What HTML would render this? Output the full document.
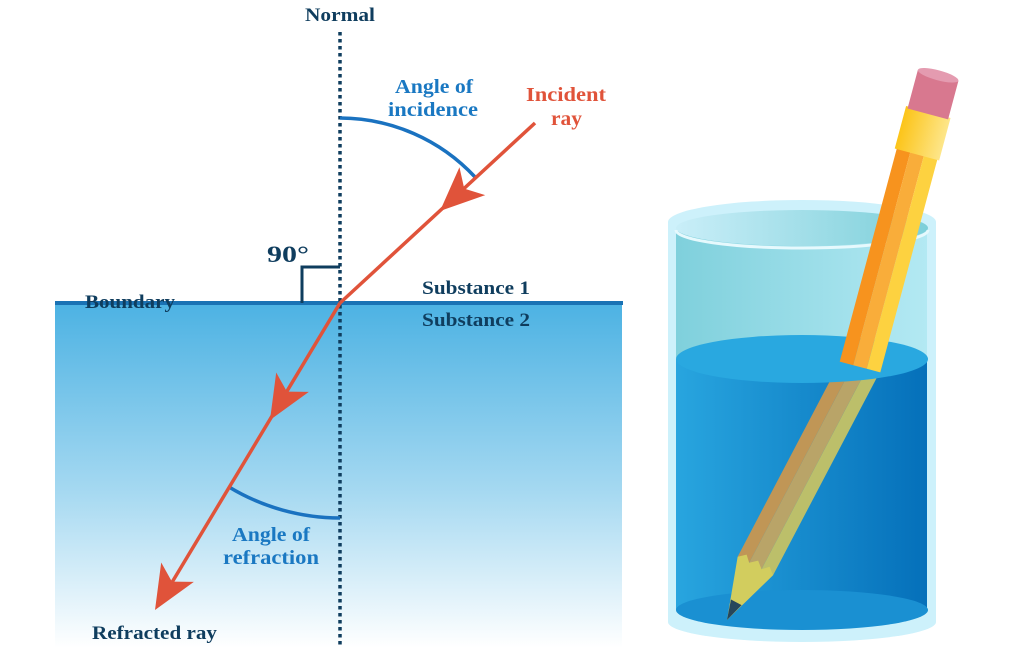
<!DOCTYPE html>
<html><head><meta charset="utf-8"><style>
html,body{margin:0;padding:0;background:#fff;}
svg{display:block;}
text{font-family:"Liberation Serif",serif;font-weight:bold;}
</style></head><body>
<svg width="1024" height="669" viewBox="0 0 1024 669" xmlns="http://www.w3.org/2000/svg">
<defs>
<linearGradient id="water" x1="0" y1="0" x2="0" y2="1">
<stop offset="0" stop-color="#4cb2e3"/><stop offset="0.55" stop-color="#a6d9f1"/><stop offset="1" stop-color="#ffffff"/>
</linearGradient>
<linearGradient id="gtop" x1="0" y1="0" x2="1" y2="0">
<stop offset="0" stop-color="#c9eef8"/><stop offset="1" stop-color="#7ccfd9"/>
</linearGradient>
<linearGradient id="gbody" x1="0" y1="0" x2="1" y2="0">
<stop offset="0" stop-color="#7fd0dc"/><stop offset="1" stop-color="#b3e9f3"/>
</linearGradient>
<linearGradient id="wbody" x1="0" y1="0" x2="1" y2="0">
<stop offset="0" stop-color="#28a5df"/><stop offset="1" stop-color="#0570ba"/>
</linearGradient>
<linearGradient id="ferr" x1="0" y1="0" x2="1" y2="0">
<stop offset="0" stop-color="#fcc419"/><stop offset="1" stop-color="#fde68a"/>
</linearGradient>
</defs>

<rect x="55" y="303" width="567" height="345" fill="url(#water)"/>
<line x1="55" y1="303" x2="623" y2="303" stroke="#1a72b4" stroke-width="4"/>

<line x1="340" y1="32" x2="340" y2="648" stroke="#0f3d5e" stroke-width="3.5" stroke-dasharray="3.5 3.5"/>

<polyline points="302,303 302,267 340,267" fill="none" stroke="#0f3d5e" stroke-width="3"/>

<path d="M340,118 A185,185 0 0 1 475,177" fill="none" stroke="#1a72c0" stroke-width="3.5"/>
<path d="M340,518 A215,215 0 0 1 229,487" fill="none" stroke="#1a72c0" stroke-width="3.5"/>

<line x1="535" y1="123" x2="340" y2="303" stroke="#e0533a" stroke-width="3.5"/>
<line x1="340" y1="303" x2="165" y2="594" stroke="#e0533a" stroke-width="3.5"/>
<g fill="#e0533a">
<polygon points="0,0 -44,-19 -33,0 -44,19" transform="translate(440,211) rotate(137.3)"/>
<polygon points="0,0 -44,-19 -33,0 -44,19" transform="translate(270,420) rotate(120.8)"/>
<polygon points="0,0 -44,-19 -33,0 -44,19" transform="translate(155,610) rotate(120.8)"/>
</g>

<g fill="#0f3d5e">
<text x="305" y="21" font-size="19" textLength="70" lengthAdjust="spacingAndGlyphs">Normal</text>
<text x="267" y="262" font-size="23" textLength="42" lengthAdjust="spacingAndGlyphs">90°</text>
<text x="85" y="308" font-size="19" textLength="90" lengthAdjust="spacingAndGlyphs">Boundary</text>
<text x="422" y="294" font-size="19" textLength="108" lengthAdjust="spacingAndGlyphs">Substance 1</text>
<text x="422" y="326" font-size="19" textLength="108" lengthAdjust="spacingAndGlyphs">Substance 2</text>
<text x="92" y="639" font-size="19" textLength="125" lengthAdjust="spacingAndGlyphs">Refracted ray</text>
</g>
<g fill="#1a78c2" font-size="20">
<text x="395" y="93" textLength="78" lengthAdjust="spacingAndGlyphs">Angle of</text>
<text x="388" y="116" textLength="90" lengthAdjust="spacingAndGlyphs">incidence</text>
<text x="232" y="541" textLength="78" lengthAdjust="spacingAndGlyphs">Angle of</text>
<text x="223" y="564" textLength="96" lengthAdjust="spacingAndGlyphs">refraction</text>
</g>
<g fill="#e0533a" font-size="20">
<text x="526" y="101" textLength="80" lengthAdjust="spacingAndGlyphs">Incident</text>
<text x="551" y="125" textLength="31" lengthAdjust="spacingAndGlyphs">ray</text>
</g>

<ellipse cx="802" cy="622" rx="134" ry="20" fill="#cdf1fb"/>
<rect x="668" y="222" width="268" height="400" fill="#cdf1fb"/>
<ellipse cx="802" cy="222" rx="134" ry="22" fill="#cdf1fb"/>
<rect x="676" y="230" width="251" height="128" fill="url(#gbody)"/>
<ellipse cx="802" cy="228" rx="126" ry="18" fill="url(#gtop)"/>
<path d="M676,230 A126,18 0 0 0 928,230" fill="none" stroke="#e6f9fd" stroke-width="3"/>

<rect x="676" y="359" width="251" height="251" fill="url(#wbody)"/>
<ellipse cx="802" cy="610" rx="126" ry="20" fill="#1a90d2"/>

<g transform="translate(727,620) rotate(27.7)">
<polygon points="-20,-61 -7,-61 -7,-300 -20,-300" fill="#c09656"/>
<polygon points="-7,-61 7,-61 7,-300 -7,-300" fill="#b9a468"/>
<polygon points="7,-61 20,-61 20,-300 7,-300" fill="#bcbf6a"/>
<polygon points="0,0 -20,-61 -13,-67 -7,-61 0,-67 7,-61 13,-67 20,-61" fill="#d2cd5e"/>
<polygon points="0,0 -6,-20 6,-20" fill="#26465c"/>
</g>
<ellipse cx="802" cy="359" rx="126" ry="24" fill="#29a8e0"/>

<g transform="translate(860,367) rotate(15)">
<rect x="-21" y="-222" width="14" height="222" fill="#f7931e"/>
<rect x="-7" y="-222" width="14" height="222" fill="#f9ad3a"/>
<rect x="7" y="-222" width="14" height="222" fill="#fdd240"/>
<rect x="-23" y="-264" width="46" height="44" fill="url(#ferr)"/>
<rect x="-21" y="-302" width="42" height="40" fill="#d8788f"/>
<ellipse cx="0" cy="-302" rx="21" ry="5" fill="#e49bb0"/>
</g>
</svg>
</body></html>
